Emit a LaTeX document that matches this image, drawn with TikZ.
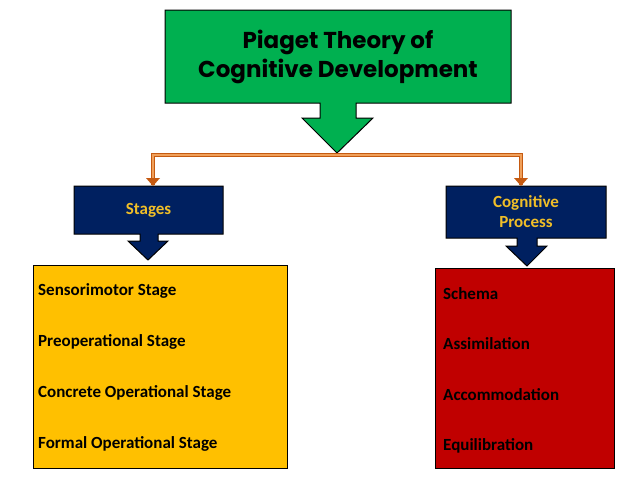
\documentclass[tikz,border=0pt]{standalone}
\usepackage{fontspec}
\setmainfont{Carlito}
\newfontfamily\titlefont{Poppins}
\usetikzlibrary{arrows.meta}
\definecolor{grn}{RGB}{0,176,80}
\definecolor{navy}{RGB}{0,32,96}
\definecolor{gold}{RGB}{255,192,0}
\definecolor{dred}{RGB}{192,0,0}
\definecolor{ylw}{RGB}{240,190,40}
\definecolor{org}{RGB}{197,90,17}
\definecolor{lorg}{RGB}{240,160,90}
\begin{document}
\begin{tikzpicture}[x=1pt,y=-1pt,
  shp/.style={draw=black,line width=1pt},
  item/.style={anchor=west,font=\bfseries\fontsize{17}{20}\selectfont,inner sep=0pt},
  hd/.style={font=\bfseries\fontsize{17}{20}\selectfont,text=ylw,align=center}]
\useasboundingbox (0,0) rectangle (638,479);
% title callout
\draw[shp,fill=grn] (165,10) -- (511,10) -- (511,103) -- (356,103) -- (356,118) -- (373,118)
  -- (337,153) -- (302,118) -- (320,118) -- (320,103) -- (165,103) -- cycle;
\node[font=\titlefont\bfseries\fontsize{23}{29}\selectfont,align=center] (title) at (338,57)
  {Piaget Theory of\\Cognitive Development};
% stages
\draw[shp,fill=navy] (74,186) -- (223,186) -- (223,234) -- (158,234) -- (158,241) -- (168,241)
  -- (148,260) -- (128,241) -- (140,241) -- (140,234) -- (74,234) -- cycle;
\node[hd] (stages) at (148.5,210) {Stages};
% cognitive
\draw[shp,fill=navy] (446,186) -- (606,186) -- (606,238) -- (537,238) -- (537,246) -- (547,246)
  -- (527,266) -- (506,246) -- (517,246) -- (517,238) -- (446,238) -- cycle;
\node[hd] (cog) at (526,212) {Cognitive\\Process};
% connector
\coordinate (l) at (153,155);
\coordinate (r) at (521,155);
\coordinate (la) at (153,185);
\coordinate (ra) at (521,185);
\draw[org,line width=4pt,line join=miter] (la) -- (l) -- (r) -- (ra);
\draw[lorg,line width=1.6pt] (153,179) -- (l) -- (r) -- (521,179);
\fill[org] (146,178) -- (160,178) -- (153,186) -- cycle;
\fill[org] (514,178) -- (528,178) -- (521,186) -- cycle;
% boxes
\node[shp,fill=gold,minimum width=254pt,minimum height=203pt,inner sep=0pt] (ybox) at (160,366.5) {};
\node[shp,fill=dred,minimum width=179pt,minimum height=200pt,inner sep=0pt] (rbox) at (524.5,368) {};
\node[item] (y1) at (38,291) {Sensorimotor Stage};
\node[item] (y2) at (38,342) {Preoperational Stage};
\node[item] (y3) at (38,393) {Concrete Operational Stage};
\node[item] (y4) at (38,444) {Formal Operational Stage};
\node[item] (r1) at (443,294) {Schema};
\node[item] (r2) at (443,344) {Assimilation};
\node[item] (r3) at (443,395) {Accommodation};
\node[item] (r4) at (443,446) {Equilibration};
\end{tikzpicture}
\end{document}
